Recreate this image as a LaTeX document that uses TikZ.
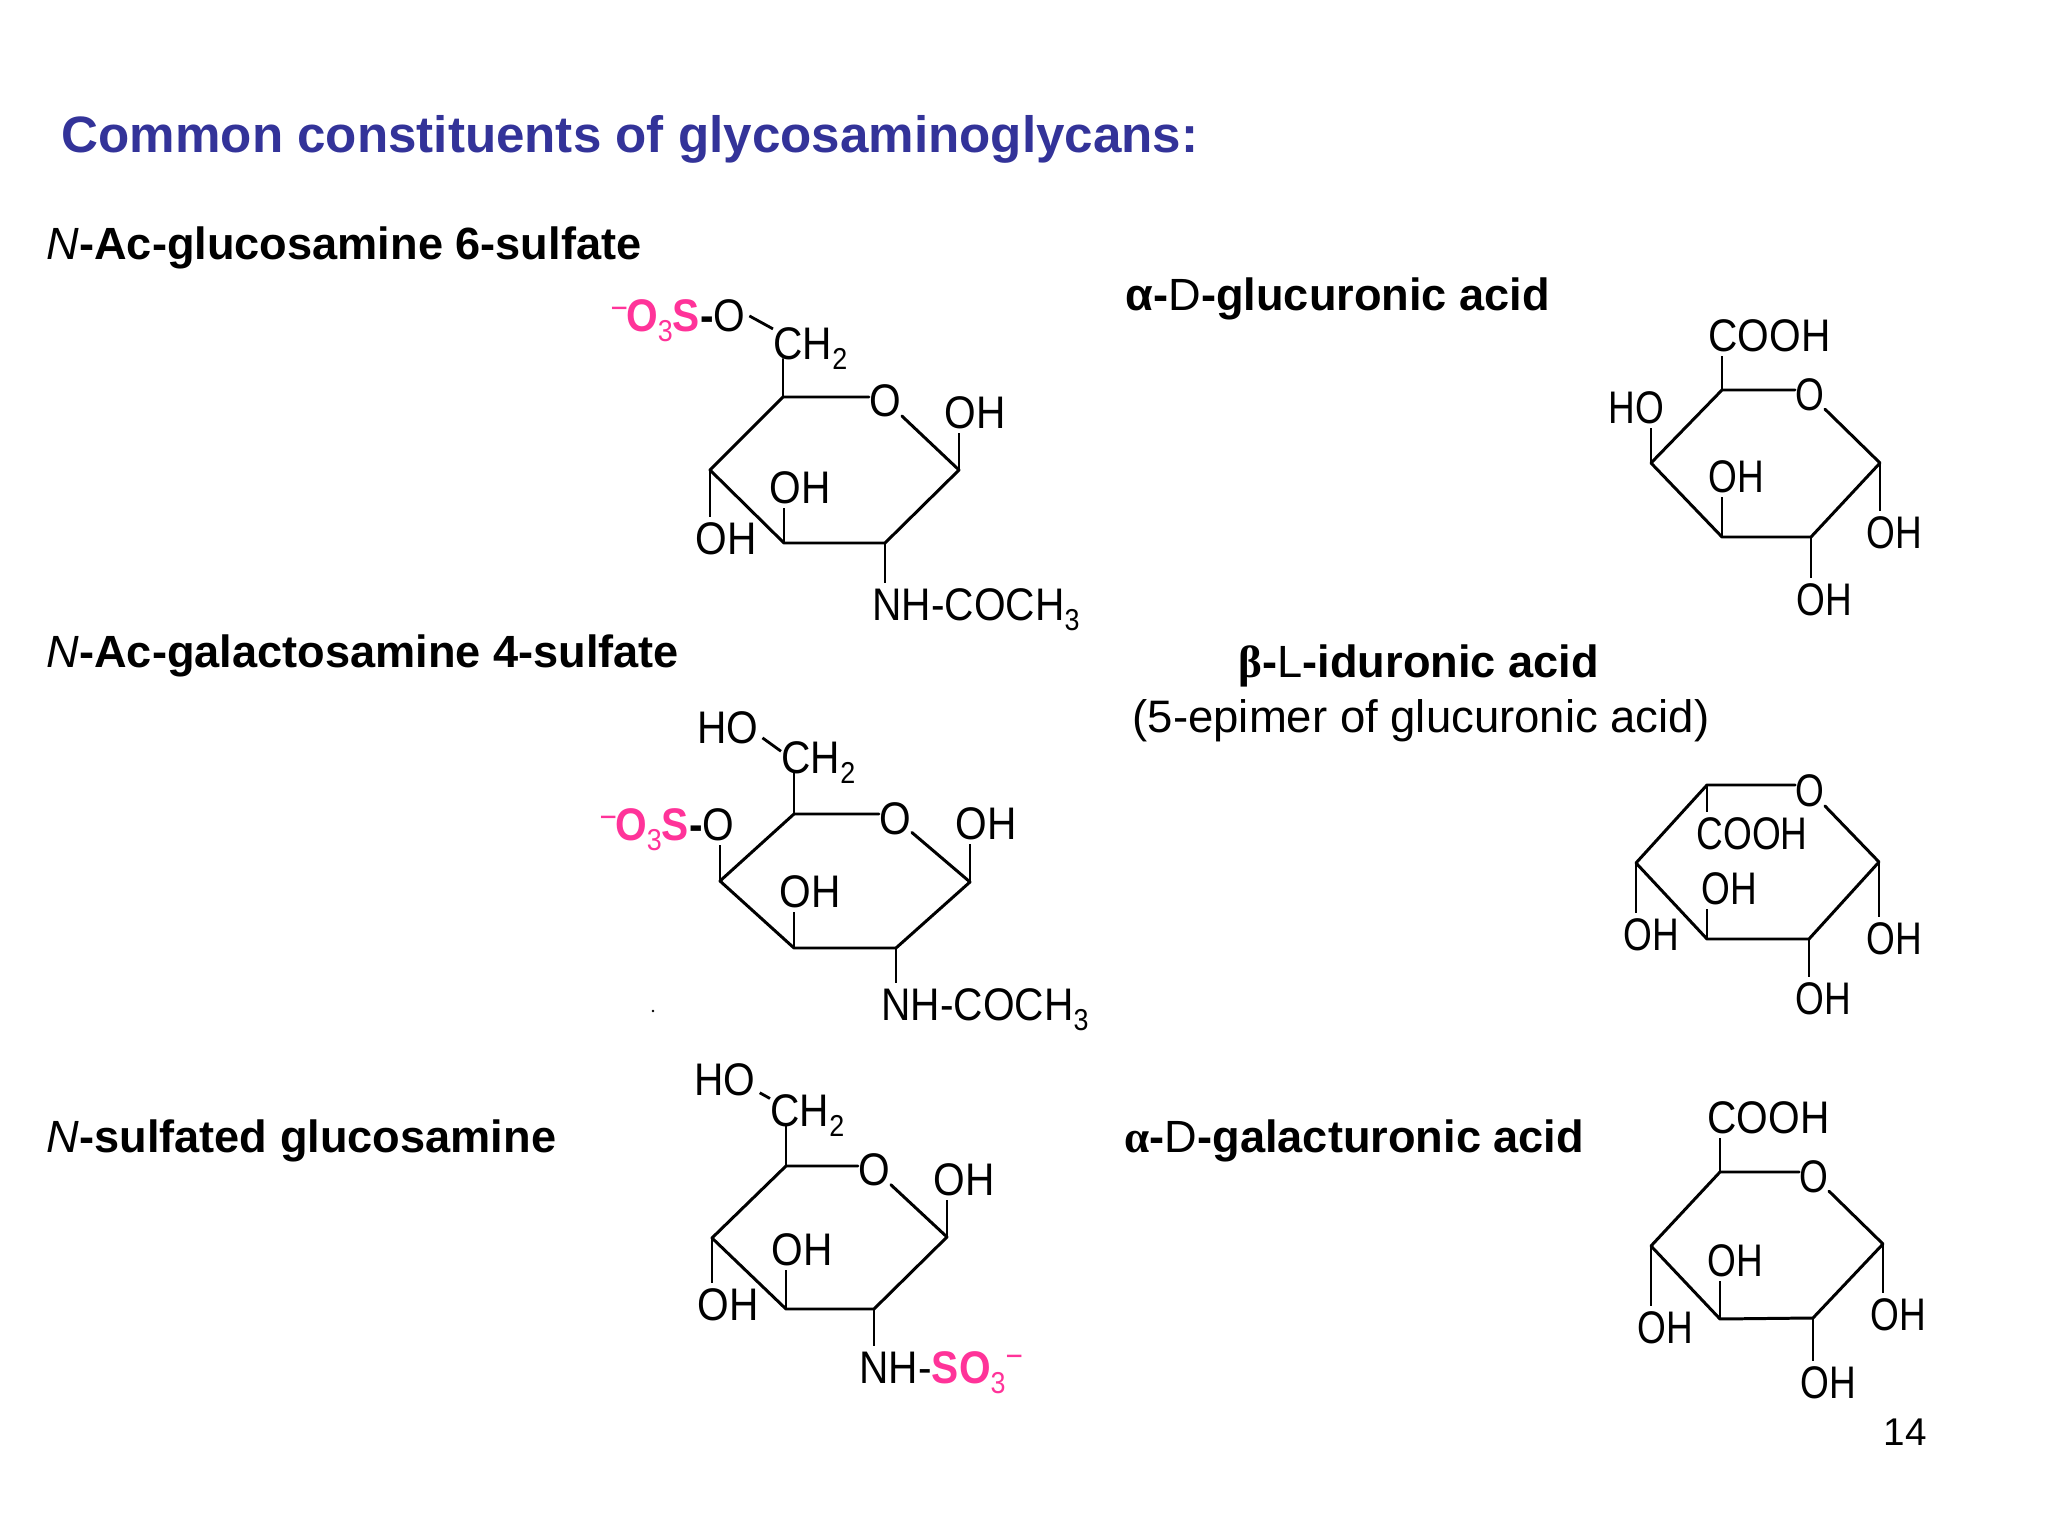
\documentclass[tikz,border=0pt]{standalone}
\usepackage{fontspec}
\setmainfont{Liberation Sans}
\newfontfamily\greekserif{Liberation Serif}
\usepackage{tikz}
\usetikzlibrary{calc}
\definecolor{titleblue}{RGB}{51,51,153}
\definecolor{chempink}{RGB}{255,51,153}
\newcommand{\sbs}[1]{\raisebox{-3pt}{\fontsize{8.6}{9}\selectfont #1}}
\newcommand{\sulfo}{\textcolor{chempink}{\raisebox{3.4pt}{\fontsize{9.5}{9}\selectfont −}\kern-.04em\textbf{O}\sbs{3}\textbf{S}}}
\newcommand{\sulfi}{\textcolor{chempink}{\textbf{SO}\sbs{3}\raisebox{4.4pt}{\fontsize{9.5}{9}\selectfont −}}}
\tikzset{
	chem/.style={anchor=base west,inner sep=0pt,xscale=0.89,yshift=-0.012cm,font=\fontsize{13}{15}\selectfont},
	chemn/.style={chem,xscale=0.91},
	head/.style={anchor=base west,inner sep=0pt,font=\fontsize{12.85}{15}\selectfont\bfseries},
	note/.style={anchor=base west,inner sep=0pt,font=\fontsize{12.95}{15}\selectfont},
	ring/.style={line width=0.85pt,line join=round,line cap=round},
	bond/.style={line width=0.8pt,shorten >=0.05cm},
	link/.style={line width=0.8pt,shorten <=0.04cm}
}
\begin{document}
\begin{tikzpicture}[y=-1cm]
\useasboundingbox (0,0) rectangle (20.48,15.36);
\node[anchor=base west,inner sep=0pt,font=\fontsize{14.55}{17}\selectfont\bfseries,text=titleblue] (title) at (0.61,1.53) {Common constituents of glycosaminoglycans:};
\node[head] (glcsname) at (0.46,2.60) {\textmd{\textit{N}}-Ac-glucosamine 6-sulfate};
\node[head] (galsname) at (0.46,6.68) {\textmd{\textit{N}}-Ac-galactosamine 4-sulfate};
\node[head] (nsulname) at (0.46,11.52) {\textmd{\textit{N}}-sulfated glucosamine};
\node[head] (glucname) at (11.25,3.11) {α-\textmd{D}-glucuronic acid};
\node[head] (idurname) at (12.38,6.78) {{\greekserif β}-\textmd{L}-iduronic acid};
\node[note] (idurnote) at (11.32,7.33) {(5-epimer of glucuronic acid)};
\node[head] (galuname) at (11.24,11.52) {{\greekserif α}-\textmd{D}-galacturonic acid};
\node[anchor=base west,inner sep=0pt,font=\fontsize{11}{14}\selectfont] (pageno) at (18.83,14.45) {14};
% glucosamine 6-sulfate
\coordinate (glcs5) at (7.83,3.97);
\coordinate (glcs1) at (9.59,4.70);
\coordinate (glcs2) at (8.85,5.43);
\coordinate (glcs3) at (7.84,5.43);
\coordinate (glcs4) at (7.10,4.70);
\node[chem] (glcsO) at (8.69,4.15) {O};
\node[chem] (glcsS) at (6.10,3.30) {\sulfo\textbf{-}O};
\node[chem] (glcsCH) at (7.73,3.58) {CH\sbs{2}};
\node[chem] (glcsOHa) at (9.44,4.27) {OH};
\node[chem] (glcsOHb) at (7.69,5.02) {OH};
\node[chem] (glcsOHc) at (6.95,5.53) {OH};
\node[chem] (glcsNH) at (8.72,6.19) {NH-COCH\sbs{3}};
\draw[ring] (glcsO) -- (glcs1) -- (glcs2) -- (glcs3) -- (glcs4) -- (glcs5) -- (glcs5 -| glcsO.west);
\draw[link] (glcsS.5) -- (glcsCH.155);
\draw[ring] (glcs5) -- (glcs5 |- glcsCH.base);
\draw[bond] (glcs1) -- (glcs1 |- glcsOHa.base);
\draw[bond] (glcs3) -- (glcs3 |- glcsOHb.base);
\draw[bond] (glcs4) -- (glcs4 |- glcsOHc.north);
\draw[bond] (glcs2) -- (glcs2 |- glcsNH.north);
% galactosamine 4-sulfate
\coordinate (gals5) at (7.94,8.14);
\coordinate (gals1) at (9.70,8.82);
\coordinate (gals2) at (8.96,9.48);
\coordinate (gals3) at (7.94,9.48);
\coordinate (gals4) at (7.20,8.81);
\node[chem] (galsO) at (8.79,8.33) {O};
\node[chem] (galsS) at (5.99,8.39) {\sulfo\textbf{-}O};
\node[chem] (galsHO) at (6.97,7.42) {HO};
\node[chem] (galsCH) at (7.81,7.72) {CH\sbs{2}};
\node[chem] (galsOHa) at (9.55,8.38) {OH};
\node[chem] (galsOHb) at (7.79,9.06) {OH};
\node[chem] (galsNH) at (8.81,10.19) {NH-COCH\sbs{3}};
\fill (6.53,10.11) circle [radius=0.014];
\draw[ring] (galsO) -- (gals1) -- (gals2) -- (gals3) -- (gals4) -- (gals5) -- (gals5 -| galsO.west);
\draw[link] (galsHO.-13) -- (galsCH.165);
\draw[ring] (gals5) -- (gals5 |- galsCH.base);
\draw[bond] (gals1) -- (gals1 |- galsOHa.base);
\draw[bond] (gals3) -- (gals3 |- galsOHb.base);
\draw[bond] (gals2) -- (gals2 |- galsNH.north);
\draw[bond] (gals4) -- (gals4 |- galsS.base);
% N-sulfated glucosamine
\coordinate (nsul5) at (7.86,11.66);
\coordinate (nsul1) at (9.47,12.37);
\coordinate (nsul2) at (8.74,13.09);
\coordinate (nsul3) at (7.86,13.09);
\coordinate (nsul4) at (7.12,12.38);
\node[chem] (nsulO) at (8.58,11.84) {O};
\node[chem] (nsulHO) at (6.94,10.94) {HO};
\node[chem] (nsulCH) at (7.70,11.25) {CH\sbs{2}};
\node[chem] (nsulOHa) at (9.33,11.94) {OH};
\node[chem] (nsulOHb) at (7.71,12.64) {OH};
\node[chem] (nsulOHc) at (6.97,13.19) {OH};
\node[chem] (nsulNH) at (8.59,13.82) {NH-\sulfi};
\draw[ring] (nsulO) -- (nsul1) -- (nsul2) -- (nsul3) -- (nsul4) -- (nsul5) -- (nsul5 -| nsulO.west);
\draw[link] (nsulHO.-18) -- (nsulCH.158);
\draw[ring] (nsul5) -- (nsul5 |- nsulCH.base);
\draw[bond] (nsul1) -- (nsul1 |- nsulOHa.base);
\draw[bond] (nsul3) -- (nsul3 |- nsulOHb.base);
\draw[bond] (nsul4) -- (nsul4 |- nsulOHc.north);
\draw[bond] (nsul2) -- (nsul2 |- nsulNH.north);
% glucuronic acid
\coordinate (gluc5) at (17.22,3.90);
\coordinate (gluc1) at (18.80,4.63);
\coordinate (gluc2) at (18.11,5.37);
\coordinate (gluc3) at (17.22,5.37);
\coordinate (gluc4) at (16.51,4.63);
\node[chemn] (glucO) at (17.95,4.09) {O};
\node[chem] (glucCO) at (17.08,3.50) {COOH};
\node[chemn] (glucHO) at (16.08,4.22) {HO};
\node[chemn] (glucOHa) at (17.08,4.91) {OH};
\node[chemn] (glucOHb) at (18.66,5.47) {OH};
\node[chemn] (glucOHc) at (17.96,6.14) {OH};
\draw[ring] (glucO) -- (gluc1) -- (gluc2) -- (gluc3) -- (gluc4) -- (gluc5) -- (gluc5 -| glucO.west);
\draw[bond] (gluc5) -- (gluc5 |- glucCO.base);
\draw[bond] (gluc4) -- (gluc4 |- glucHO.base);
\draw[bond] (gluc3) -- (gluc3 |- glucOHa.base);
\draw[bond] (gluc1) -- (gluc1 |- glucOHb.north);
\draw[bond] (gluc2) -- (gluc2 |- glucOHc.north);
% iduronic acid
\coordinate (idur5) at (17.07,7.85);
\coordinate (idur1) at (18.79,8.62);
\coordinate (idur2) at (18.09,9.39);
\coordinate (idur3) at (17.07,9.39);
\coordinate (idur4) at (16.36,8.63);
\node[chemn] (idurO) at (17.95,8.05) {O};
\node[chemn] (idurCO) at (16.96,8.48) {COOH};
\node[chemn] (idurOHa) at (17.01,9.03) {OH};
\node[chemn] (idurOHb) at (16.23,9.49) {OH};
\node[chemn] (idurOHc) at (18.66,9.53) {OH};
\node[chemn] (idurOHd) at (17.95,10.13) {OH};
\draw[ring] (idurO) -- (idur1) -- (idur2) -- (idur3) -- (idur4) -- (idur5) -- (idur5 -| idurO.west);
\draw[bond] (idur5) -- (idur5 |- idurCO.north);
\draw[bond] (idur3) -- (idur3 |- idurOHa.base);
\draw[bond] (idur4) -- (idur4 |- idurOHb.north);
\draw[bond] (idur1) -- (idur1 |- idurOHc.north);
\draw[bond] (idur2) -- (idur2 |- idurOHd.north);
% galacturonic acid
\coordinate (galu5) at (17.20,11.72);
\coordinate (galu1) at (18.83,12.44);
\coordinate (galu2) at (18.13,13.18);
\coordinate (galu3) at (17.20,13.19);
\coordinate (galu4) at (16.51,12.46);
\node[chemn] (galuO) at (17.99,11.91) {O};
\node[chem] (galuCO) at (17.07,11.32) {COOH};
\node[chemn] (galuOHa) at (17.07,12.75) {OH};
\node[chemn] (galuOHb) at (16.37,13.42) {OH};
\node[chemn] (galuOHc) at (18.70,13.29) {OH};
\node[chemn] (galuOHd) at (18.00,13.97) {OH};
\draw[ring] (galuO) -- (galu1) -- (galu2) -- (galu3) -- (galu4) -- (galu5) -- (galu5 -| galuO.west);
\draw[bond] (galu5) -- (galu5 |- galuCO.base);
\draw[bond] (galu3) -- (galu3 |- galuOHa.base);
\draw[bond] (galu4) -- (galu4 |- galuOHb.north);
\draw[bond] (galu1) -- (galu1 |- galuOHc.north);
\draw[bond] (galu2) -- (galu2 |- galuOHd.north);
\end{tikzpicture}
\end{document}
